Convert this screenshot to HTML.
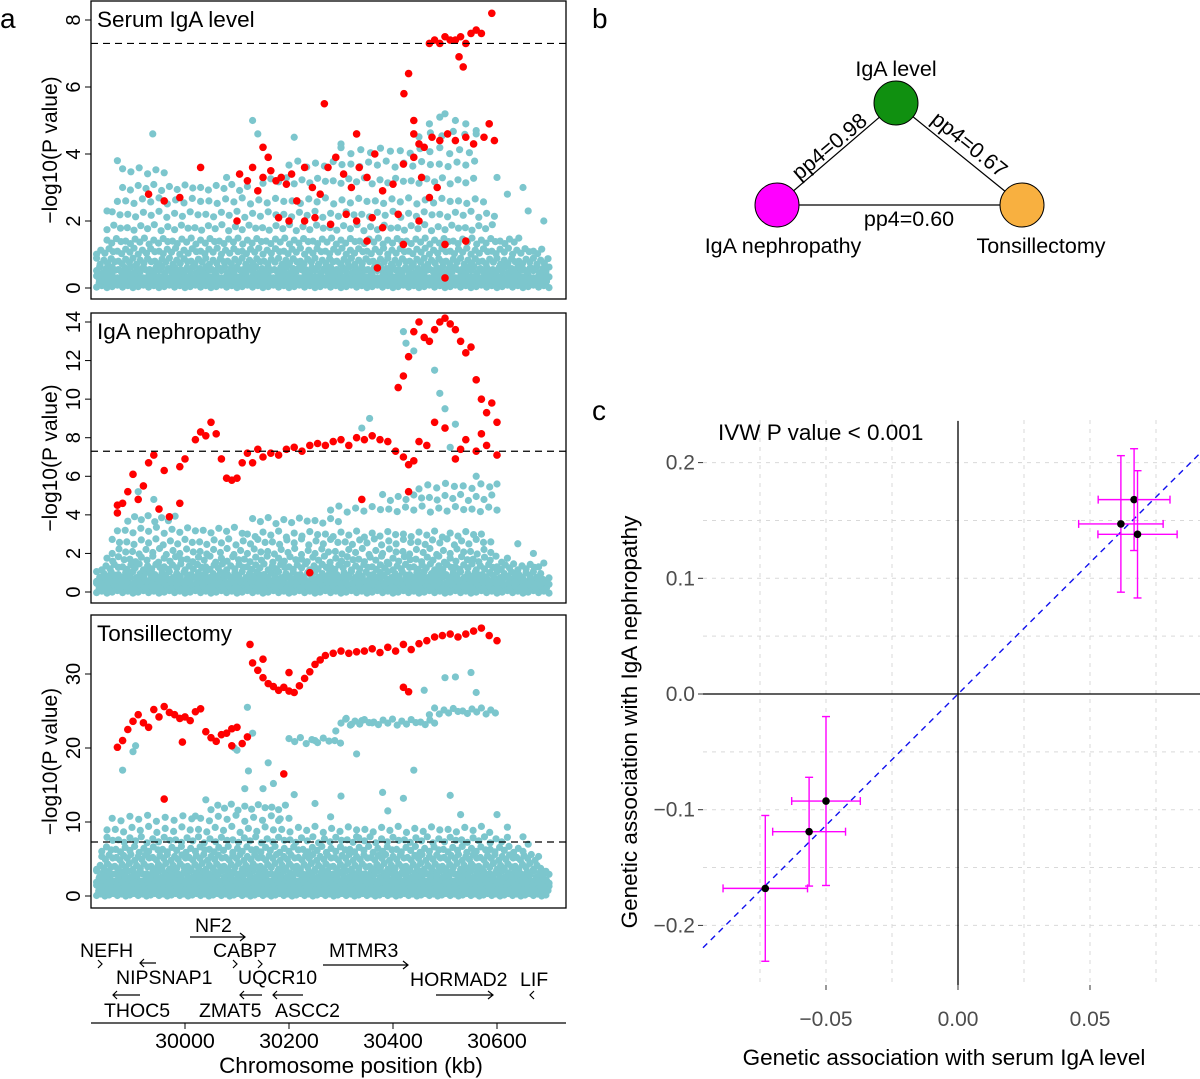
<!DOCTYPE html>
<html><head><meta charset="utf-8"><style>
html,body{margin:0;padding:0;background:#fff}
svg{display:block;font-family:"Liberation Sans",Arial,sans-serif}
</style></head><body>
<svg id="fig" width="1200" height="1079" viewBox="0 0 1200 1079" xmlns="http://www.w3.org/2000/svg">
<g id="panelA"></g>
<g id="genes">
<text x="0" y="28" font-size="28">a</text>
<g font-size="19.5" fill="#000" stroke="none">
<text x="195" y="932">NF2</text>
<text x="80" y="957">NEFH</text>
<text x="213" y="957">CABP7</text>
<text x="329" y="957">MTMR3</text>
<text x="116" y="984">NIPSNAP1</text>
<text x="238" y="984">UQCR10</text>
<text x="410" y="986">HORMAD2</text>
<text x="520" y="986">LIF</text>
<text x="104" y="1017">THOC5</text>
<text x="199" y="1017">ZMAT5</text>
<text x="275" y="1017">ASCC2</text>
</g>
<g stroke="#000" stroke-width="1.2" fill="none">
<path d="M190 937H245M240 933L245 937L240 941"/>
<path d="M98 960L102 964L98 968"/>
<path d="M140 963H156M144 959L140 963L144 967"/>
<path d="M233 960L237 964L233 968M258 960L262 964L258 968"/>
<path d="M323 965H408M403 961L408 965L403 969"/>
<path d="M436 995H493M488 991L493 995L488 999"/>
<path d="M534 991L530 995L534 999"/>
<path d="M113 995H140M117 991L113 995L117 999"/>
<path d="M240 995H262M244 991L240 995L244 999"/>
<path d="M273 995H303M277 991L273 995L277 999"/>
</g>
<line x1="91" y1="1023" x2="566" y2="1023" stroke="#000" stroke-width="1.3"/>
<g id="xticksA" font-size="21.5" text-anchor="middle"></g>
<text x="351" y="1073" font-size="22.5" text-anchor="middle">Chromosome position (kb)</text>
</g>

<g id="panelB">
<text x="592" y="28" font-size="28">b</text>
<line x1="896" y1="103" x2="777" y2="205" stroke="#000" stroke-width="1.2"/>
<line x1="896" y1="103" x2="1022" y2="205" stroke="#000" stroke-width="1.2"/>
<line x1="777" y1="205" x2="1022" y2="205" stroke="#000" stroke-width="1.2"/>
<circle cx="896" cy="103" r="22" fill="#109010" stroke="#000"/>
<circle cx="777" cy="205" r="22" fill="#ff00ff" stroke="#000"/>
<circle cx="1022" cy="205" r="22" fill="#f8b040" stroke="#000"/>
<g font-size="21.5">
<text x="896" y="76" text-anchor="middle">IgA level</text>
<text x="783" y="253" text-anchor="middle">IgA nephropathy</text>
<text x="1041" y="253" text-anchor="middle">Tonsillectomy</text>
<text transform="translate(834,152) rotate(-40)" text-anchor="middle">pp4=0.98</text>
<text transform="translate(965,150) rotate(39)" text-anchor="middle">pp4=0.67</text>
<text x="909" y="226" text-anchor="middle">pp4=0.60</text>
</g>
</g>

<g id="panelC">
<text x="592" y="420" font-size="28">c</text>
</g>
</svg>
<script>
// ---------- Panel a data ----------
const serumRedKb=[30470,30480,30490,30500,30510,30520,30530,30540,30550,30560,30570,30590,30527,30535,30430,30421,30268,30440,30440,30450,30460,30475,30490,30505,30520,30540,30555,30575,30585,30595,30105,30120,30130,30140,30150,30165,30175,30185,30195,30205,30215,30230,30245,30260,30275,30290,30305,30320,30335,30350,30365,30380,30400,30420,30440,30455,30470,30485,30180,30200,30230,30250,30280,30310,30330,30360,30380,30410,30450,29930,29960,29990,30100,30350,30420,30500,30540,30030,30150,30330,30160,30370,30500];
const serumRedP=[7.3,7.4,7.3,7.5,7.4,7.4,7.5,7.3,7.6,7.7,7.6,8.2,6.9,6.6,6.4,5.8,5.5,5.0,4.6,4.3,4.2,4.5,4.4,4.6,4.4,4.5,4.3,4.5,4.9,4.4,3.4,3.2,3.6,2.9,3.3,3.5,3.2,3.3,3.1,3.4,2.6,3.6,3.0,2.8,3.6,3.9,3.4,3.0,3.6,3.3,4.0,2.9,3.1,3.7,3.9,3.3,2.7,3.0,2.1,2.0,2.0,2.1,1.9,2.2,2.0,2.1,1.8,2.2,2.0,2.8,2.6,2.7,2.0,1.4,1.3,1.3,1.4,3.6,4.2,4.6,3.9,0.6,0.3];
const serumCyanKb=[30130,30140,29938,30500,30520,30540,30210,30300,30600,30620,30660,30690,30650,29850,29870,30080,30470,30490,30560];
const serumCyanP=[5.0,4.6,4.6,5.2,5.0,4.9,4.5,4.3,3.3,2.8,2.3,2.0,3.0,2.3,3.8,3.3,4.9,5.1,4.7];
// background bands: [startKb, endKb, -log10P, stepKb]
const serumBands=[[29830,30700,0.1,5],[29830,30700,0.3,5],[29830,30700,0.55,6],[29830,30700,0.8,7],[29830,30690,1.1,8],[29850,30650,1.4,9],[29850,30600,1.8,13],[29860,30600,2.2,15],[29870,30580,2.6,16],[29880,30120,3.0,15],[30150,30560,3.2,15],[29880,29960,3.5,16],[30200,30560,3.7,17],[30300,30560,4.1,19],[30450,30580,4.6,22]];

const nephRedKb=[29870,29880,29890,29900,29910,29920,29930,29940,29950,29960,29970,29990,30000,30020,30030,30040,30050,30060,30070,30080,30090,30100,30110,30120,30130,30140,30150,30165,30180,30195,30210,30225,30240,30255,30270,30285,30300,30315,30330,30345,30360,30375,30390,30405,30420,30430,30440,30410,30420,30430,30440,30450,30460,30470,30480,30490,30500,30510,30520,30530,30540,30550,30560,30570,30580,30590,30600,30580,30570,30540,30520,30500,30480,30465,30450,30530,30560,30600,30240,30430,30340,29990,29870];
const nephRedP=[4.1,4.6,5.2,6.1,4.8,5.5,6.7,7.1,4.3,6.3,3.9,6.5,6.9,7.9,8.3,8.1,8.8,8.2,6.9,5.9,5.8,5.9,6.7,7.2,6.7,7.4,7.0,7.2,7.1,7.4,7.5,7.3,7.6,7.7,7.6,7.8,7.9,7.6,8.0,7.9,8.1,7.9,7.8,7.3,7.0,6.6,6.8,10.6,11.2,12.2,13.5,14.0,13.2,13.0,13.6,14.0,14.2,13.9,13.6,13.0,12.4,12.7,11.0,10.0,9.3,9.8,8.8,7.6,8.2,7.9,6.9,8.5,8.8,7.6,7.8,7.4,7.3,7.1,1.0,5.2,4.8,4.6,4.5];
const nephCyanKb=[29910,29940,30355,30340,30420,30440,30480,30490,30500,30520,30510,30600,30640,30670,30690,30425,30560];
const nephCyanP=[5.2,4.8,9.0,8.5,13.5,12.5,11.5,10.3,9.5,8.7,7.5,5.6,2.5,2.0,1.5,12.9,6.0];
const nephBands=[[29830,30700,0.1,5],[29830,30700,0.35,5],[29830,30700,0.6,6],[29830,30690,0.9,7],[29840,30680,1.3,8],[29850,30620,1.7,11],[29860,30600,2.1,13],[29860,30600,2.6,14],[29870,30120,3.2,15],[30120,30580,3.0,15],[29890,29990,3.8,13],[30130,30300,3.7,15],[30280,30600,4.3,16],[30380,30600,4.9,15],[30450,30600,5.5,17]];

const tonsRedKb=[29870,29880,29890,29900,29910,29920,29930,29940,29950,29960,29970,29980,29990,30000,30010,30020,30030,29995,30040,30050,30060,30070,30080,30090,30100,30110,30120,30090,29960,30190,30130,30140,30150,30160,30170,30180,30190,30200,30210,30220,30230,30240,30250,30260,30270,30285,30300,30315,30330,30345,30360,30375,30390,30405,30420,30435,30450,30465,30480,30495,30510,30525,30540,30555,30570,30585,30600,30420,30430,30200,30150,30125];
const tonsRedP=[20.1,21.0,22.5,23.6,24.5,23.4,22.8,25.2,24.2,25.6,24.8,24.5,24.0,24.2,23.7,24.9,25.3,20.8,22.2,21.4,20.9,21.8,22.0,22.6,22.8,20.6,21.5,20.3,13.1,16.5,31.5,30.5,29.5,28.7,28.3,27.8,28.2,27.7,27.5,28.4,29.4,30.3,31.3,31.9,32.5,32.8,33.1,32.8,33.0,33.1,33.4,32.9,33.6,33.1,34.0,33.3,34.1,34.5,35.0,35.2,35.4,35.0,35.4,35.8,36.2,35.2,34.5,28.2,27.6,30.2,32.0,34.0];
const tonsCyanKb=[29880,29900,29905,30095,30120,30150,30170,30250,30290,30310,30320,30340,30360,30210,30280,30300,30330,30380,30390,30420,30510,30530,30550,30560,30470,30100,30130,30160,30180,30040,30020,30250,30330,30440,30460,30500,30520,30600,30620,30650,30660,30115,30122];
const tonsCyanP=[17.0,19.5,20.3,20.0,25.5,14.5,15.2,21.0,22.3,24.0,23.2,23.7,23.4,13.7,10.7,13.5,8.0,14.0,11.5,13.2,13.6,11.0,30.2,27.5,24.5,19.7,22.0,18.0,10.2,13.0,10.8,12.5,19.2,17.0,27.8,29.5,29.6,11.0,9.3,8.0,7.0,14.5,16.9];
const tonsBands=[[29830,30700,0.4,4],[29830,30700,1.2,5],[29830,30700,2.0,5],[29830,30700,3.0,6],[29830,30690,4.0,7],[29840,30680,5.2,7],[29840,30650,6.3,9],[29850,30620,7.6,11],[29850,30600,9.0,16],[29860,30200,10.5,17],[30050,30200,12.0,13],[30200,30300,21.0,11],[30300,30480,23.5,9],[30480,30600,25.0,9]];

const xTicksA=[30000,30200,30400,30600];
const panelsA=[
 {name:"serum-iga",title:"Serum IgA level",top:1,bottom:299,y0:288,yMaxV:8,yMaxPx:20,ticks:[0,2,4,6,8],red:[serumRedKb,serumRedP],cyan:[serumCyanKb,serumCyanP],bands:serumBands},
 {name:"iga-nephropathy",title:"IgA nephropathy",top:313,bottom:603,y0:592,yMaxV:14,yMaxPx:322,ticks:[0,2,4,6,8,10,12,14],red:[nephRedKb,nephRedP],cyan:[nephCyanKb,nephCyanP],bands:nephBands},
 {name:"tonsillectomy",title:"Tonsillectomy",top:615,bottom:908,y0:896,yMaxV:30,yMaxPx:674,ticks:[0,10,20,30],red:[tonsRedKb,tonsRedP],cyan:[tonsCyanKb,tonsCyanP],bands:tonsBands}
];
const NS="http://www.w3.org/2000/svg";
function mk(tag,attrs,parent){const e=document.createElementNS(NS,tag);for(const k in attrs)e.setAttribute(k,attrs[k]);parent.appendChild(e);return e;}
function xA(kb){return 185+(kb-30000)*0.52;}
const wobble=[0,2.5,-2,1,-3,3,-1,2,-2.5,0.5];
const gA=document.getElementById('panelA');
panelsA.forEach(p=>{
 const yS=v=>p.y0-(v/p.yMaxV)*(p.y0-p.yMaxPx);
 const g=mk('g',{},gA);
 
 
 const cyanG=mk('g',{fill:'#7cc6cd'},g);
 
 
 p.bands.forEach((b,bi)=>{let j=bi;for(let k=b[0];k<=b[1];k+=b[3]){j++;mk('circle',{cx:xA(k).toFixed(1),cy:(yS(b[2])+wobble[j%10]).toFixed(1),r:3.6},cyanG);}});
 p.cyan[0].forEach((k,i)=>{mk('circle',{cx:xA(k),cy:yS(p.cyan[1][i]),r:3.6},cyanG);});
 const redG=mk('g',{fill:'#ff0000'},g);
 
 
 p.red[0].forEach((k,i)=>{mk('circle',{cx:xA(k),cy:yS(p.red[1][i]),r:3.8},redG);});
 const th=mk('line',{x1:91,x2:566,y1:yS(7.3),y2:yS(7.3),stroke:'#000','stroke-width':1.2,'stroke-dasharray':'7,5'},g);
 
 
 const box=mk('rect',{x:91,y:p.top,width:475,height:p.bottom-p.top,fill:'none',stroke:'#000','stroke-width':1.3},g);
 
 
 const t=mk('text',{x:97,y:p.top+26,'font-size':22.5},g);t.textContent=p.title;
 
 
 mk('line',{x1:91,x2:91,y1:yS(p.ticks[0]),y2:yS(p.ticks[p.ticks.length-1]),stroke:'#000'},g);
 p.ticks.forEach(v=>{
  mk('line',{x1:85,x2:91,y1:yS(v),y2:yS(v),stroke:'#000'},g);
  const tl=mk('text',{transform:`translate(80,${yS(v)}) rotate(-90)`,'text-anchor':'middle','font-size':20},g);tl.textContent=v;
  
  
 });
 const yt=mk('text',{transform:`translate(57,${(p.top+p.bottom)/2}) rotate(-90)`,'text-anchor':'middle','font-size':21},g);yt.textContent='\u2212log10(P value)';
 
 
});
const xtA=document.getElementById('xticksA');
xTicksA.forEach(v=>{
 mk('line',{x1:xA(v),x2:xA(v),y1:1023,y2:1029,stroke:'#000'},xtA);
 const t=mk('text',{x:xA(v),y:1048},xtA);t.textContent=v;
 
 
});

// ---------- Panel c data ----------
const betaX=[0.0667,0.0617,0.068,-0.050,-0.0564,-0.073];
const betaY=[0.168,0.147,0.138,-0.0925,-0.119,-0.168];
const seX=[0.0136,0.016,0.015,0.013,0.0138,0.016];
const seY=[0.044,0.059,0.055,0.073,0.047,0.063];
const xTicksC=[-0.05,0.00,0.05];
const yTicksC=[-0.2,-0.1,0.0,0.1,0.2];
const ivwSlope=2.27;
const cx=v=>958+v*2640, cy=v=>694-v*1157;
const gC=document.getElementById('panelC');
const grid=mk('g',{stroke:'#d9d9d9','stroke-width':1,'stroke-dasharray':'4,5'},gC);


for(let v=-0.075;v<=0.0751;v+=0.025){mk('line',{x1:cx(v),x2:cx(v),y1:420,y2:985},grid);}
for(let v=-0.2;v<=0.2001;v+=0.05){mk('line',{x1:703,x2:1200,y1:cy(v),y2:cy(v)},grid);}
mk('line',{x1:958,x2:958,y1:421,y2:985,stroke:'#000','stroke-width':1.3},gC);
mk('line',{x1:703,x2:1200,y1:694,y2:694,stroke:'#000','stroke-width':1.3},gC);
const ivw=mk('line',{x1:cx(-0.0966),y1:cy(-0.0966*ivwSlope),x2:cx(0.092),y2:cy(0.092*ivwSlope),stroke:'#1010ee','stroke-width':1.4,'stroke-dasharray':'6,5'},gC);


betaX.forEach((bx,i)=>{
 const g=mk('g',{stroke:'#ff00ff','stroke-width':1.4},gC);
 
 
 const X=cx(bx),Y=cy(betaY[i]),x1=cx(bx-seX[i]),x2=cx(bx+seX[i]),y1=cy(betaY[i]+seY[i]),y2=cy(betaY[i]-seY[i]);
 mk('line',{x1:x1,x2:x2,y1:Y,y2:Y},g);mk('line',{x1:x1,x2:x1,y1:Y-4,y2:Y+4},g);mk('line',{x1:x2,x2:x2,y1:Y-4,y2:Y+4},g);
 mk('line',{x1:X,x2:X,y1:y1,y2:y2},g);mk('line',{x1:X-4,x2:X+4,y1:y1,y2:y1},g);mk('line',{x1:X-4,x2:X+4,y1:y2,y2:y2},g);
 mk('circle',{cx:X,cy:Y,r:3.8,fill:'#000',stroke:'none'},g);
});
xTicksC.forEach(v=>{
 mk('line',{x1:cx(v),x2:cx(v),y1:985,y2:990,stroke:'#333'},gC);
 const t=mk('text',{x:cx(v),y:1026,'text-anchor':'middle','font-size':21,fill:'#4d4d4d'},gC);t.textContent=v.toFixed(2).replace('-','\u2212');
 
 
});
yTicksC.forEach(v=>{
 mk('line',{x1:698,x2:703,y1:cy(v),y2:cy(v),stroke:'#333'},gC);
 const t=mk('text',{x:695,y:cy(v)+7,'text-anchor':'end','font-size':21,fill:'#4d4d4d'},gC);t.textContent=v.toFixed(1).replace('-','\u2212');
 
 
});
const ann=mk('text',{x:718,y:440,'font-size':22.5},gC);ann.textContent='IVW P value < 0.001';


const xt=mk('text',{x:944,y:1065,'text-anchor':'middle','font-size':22.5},gC);xt.textContent='Genetic association with serum IgA level';


const ytc=mk('text',{transform:'translate(637,722) rotate(-90)','text-anchor':'middle','font-size':22.5},gC);ytc.textContent='Genetic association with IgA nephropathy';


</script>
</body></html>
